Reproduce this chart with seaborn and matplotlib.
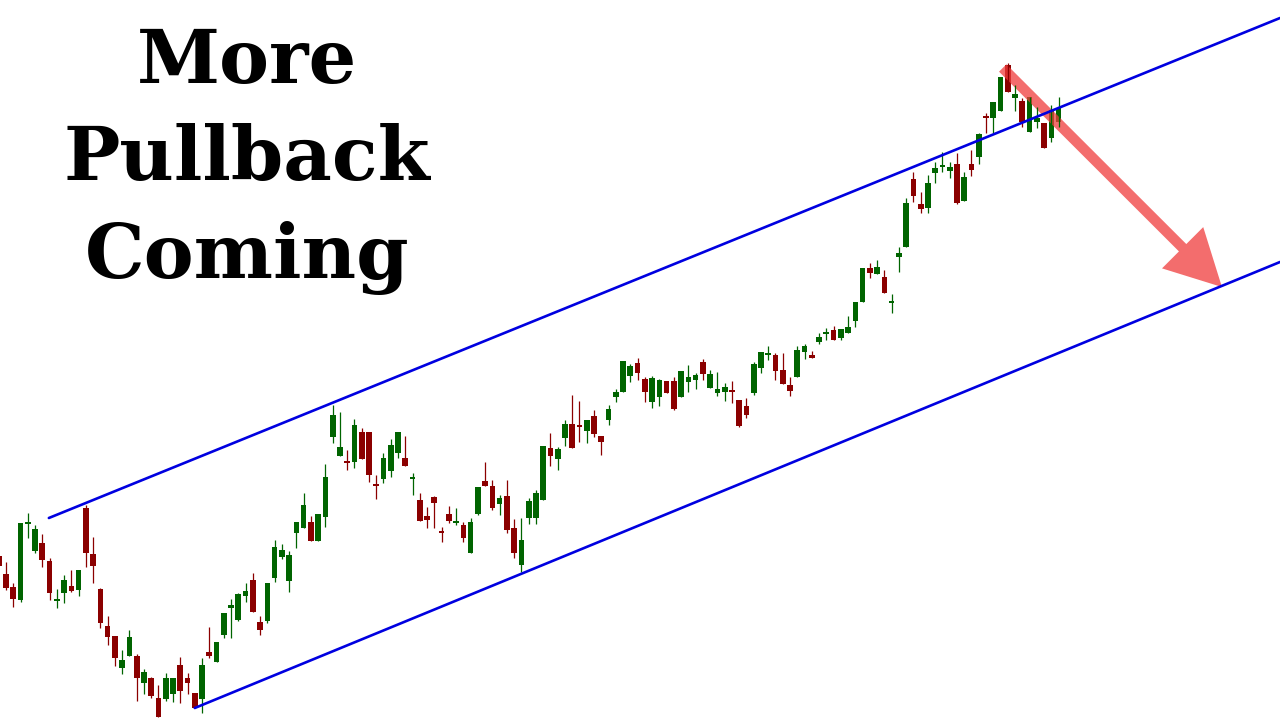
import matplotlib

matplotlib.use("Agg")
import matplotlib.pyplot as plt
import numpy as np
import pandas as pd
import seaborn as sns
from matplotlib.patches import FancyArrowPatch

# candle data (price units), oldest first
opens = [164, 146, 133, 120, 196, 169, 177, 159, 119, 127, 134, 130, 212, 166, 131, 94, 84, 52, 64, 64, 37,
         42, 22, 21, 26, 55, 42, 27, 21, 68, 58, 85, 112, 100, 124, 140, 98, 99, 142, 163, 139, 187, 192,
         198, 179, 203, 283, 264, 258, 258, 288, 288, 235, 241, 249, 267, 262, 241, 220, 204, 223, 188, 206,
         197, 195, 167, 206, 239, 234, 216, 224, 192, 155, 202, 202, 220, 272, 261, 282, 296, 294, 289, 304,
         284, 300, 323, 328, 344, 357, 341, 318, 323, 339, 339, 323, 338, 340, 358, 332, 327, 328, 329, 320,
         314, 327, 352, 365, 365, 350, 335, 343, 368, 365, 378, 386, 390, 382, 387, 399, 418, 452, 446, 443,
         417, 463, 473, 541, 516, 512, 547, 553, 549, 556, 519, 556, 563, 603, 602, 609, 655, 622, 619, 588,
         598, 597, 582, 598]
highs = [170, 158, 137, 197, 207, 195, 186, 162, 131, 145, 150, 150, 215, 183, 132, 104, 84, 70, 90, 66, 51,
         43, 35, 47, 42, 63, 47, 27, 62, 93, 78, 107, 121, 127, 137, 147, 104, 137, 180, 176, 169, 198, 227,
         204, 206, 256, 315, 308, 270, 301, 292, 288, 245, 267, 281, 288, 284, 247, 227, 213, 224, 193, 214,
         212, 198, 202, 233, 258, 240, 225, 240, 201, 202, 222, 230, 274, 287, 273, 300, 325, 319, 300, 310,
         284, 315, 331, 359, 356, 362, 343, 344, 341, 339, 343, 349, 355, 347, 361, 350, 348, 337, 339, 320,
         322, 358, 368, 374, 367, 367, 343, 374, 376, 369, 387, 392, 394, 391, 404, 418, 452, 457, 460, 450,
         426, 473, 522, 548, 528, 545, 558, 568, 558, 567, 548, 570, 587, 607, 618, 643, 657, 635, 622, 623,
         613, 597, 615, 623]
lows = [150, 130, 113, 118, 182, 167, 153, 120, 112, 117, 128, 124, 153, 137, 92, 75, 54, 46, 64, 19, 26,
        22, 3, 19, 18, 17, 26, 12, 7, 62, 58, 82, 82, 99, 118, 108, 85, 97, 138, 161, 128, 172, 192,
        179, 179, 193, 277, 264, 250, 252, 261, 238, 221, 237, 243, 262, 254, 225, 199, 192, 192, 178, 197,
        195, 178, 167, 205, 234, 210, 205, 187, 162, 148, 196, 196, 220, 254, 250, 274, 272, 278, 277, 283,
        265, 295, 318, 328, 338, 340, 318, 312, 314, 327, 310, 323, 328, 331, 340, 332, 324, 319, 317, 293,
        302, 325, 347, 360, 340, 336, 324, 343, 361, 362, 376, 380, 380, 380, 387, 393, 418, 442, 446, 427,
        407, 448, 473, 518, 507, 507, 537, 548, 542, 516, 519, 544, 556, 587, 587, 609, 628, 609, 593, 588,
        592, 572, 578, 593]
closes = [154, 132, 121, 197, 198, 191, 160, 127, 121, 140, 129, 150, 167, 154, 97, 83, 62, 60, 83, 42, 48,
          24, 3, 42, 42, 29, 37, 12, 55, 64, 78, 107, 115, 126, 129, 108, 90, 137, 173, 170, 165, 198, 215,
          179, 206, 243, 305, 273, 257, 295, 261, 245, 234, 262, 275, 288, 254, 242, 199, 200, 217, 187, 199,
          198, 182, 198, 233, 234, 212, 222, 190, 167, 180, 219, 227, 274, 264, 271, 296, 272, 293, 300, 286,
          278, 311, 328, 359, 354, 347, 328, 342, 340, 327, 311, 349, 343, 345, 346, 346, 331, 333, 328, 294,
          305, 356, 368, 366, 349, 336, 329, 370, 374, 362, 383, 388, 380, 391, 393, 418, 452, 447, 453, 427,
          418, 467, 517, 524, 511, 537, 552, 554, 553, 517, 543, 550, 586, 602, 618, 643, 628, 626, 598, 623,
          602, 572, 610, 612]

# channel lines and projected move (candle index, price)
upper_x = [6.9, 176.5]
upper_y = [202, 702]
lower_x = [27.0, 176.5]
lower_y = [12, 458]
arrow_from = (138.3, 652)
arrow_to = (168.5, 433)

title_lines = ["More", "Pullback", "Coming"]

df = pd.DataFrame({"open": opens, "high": highs, "low": lows, "close": closes})
df["idx"] = np.arange(len(df))
df["up"] = df["close"] >= df["open"]
df["color"] = np.where(df["up"], "#006400", "#8b0000")
df["bottom"] = df[["open", "close"]].min(axis=1)
df["height"] = (df["close"] - df["open"]).abs().clip(lower=1.6)

sns.set_style("white")
fig = plt.figure(figsize=(12.8, 7.2), dpi=100)
ax = fig.add_axes([0, 0, 1, 1])

ax.vlines(df["idx"], df["low"], df["high"], colors=df["color"], linewidth=0.9)
ax.bar(df["idx"], df["height"], bottom=df["bottom"], width=0.78, color=df["color"], linewidth=0)

ax.plot(upper_x, upper_y, color="#0000e0", linewidth=1.9)
ax.plot(lower_x, lower_y, color="#0000e0", linewidth=1.9)

arrow = FancyArrowPatch(
    arrow_from,
    arrow_to,
    arrowstyle="simple,head_length=40,head_width=42,tail_width=7.5",
    mutation_scale=1,
    shrinkA=0,
    shrinkB=0,
    color="#f03c3c",
    alpha=0.75,
    linewidth=0,
)
ax.add_patch(arrow)

ax.set_xlim(0.17, 176.5)
ax.set_ylim(0, 720)
ax.axis("off")

baselines = [83, 180, 278]
for line, base in zip(title_lines, baselines):
    fig.text(
        247 / 1280,
        1 - base / 720,
        line,
        ha="center",
        va="baseline",
        fontsize=54,
        fontweight="bold",
        family="DejaVu Serif",
        color="black",
    )

fig.savefig("out.png", dpi=100, facecolor="white")
